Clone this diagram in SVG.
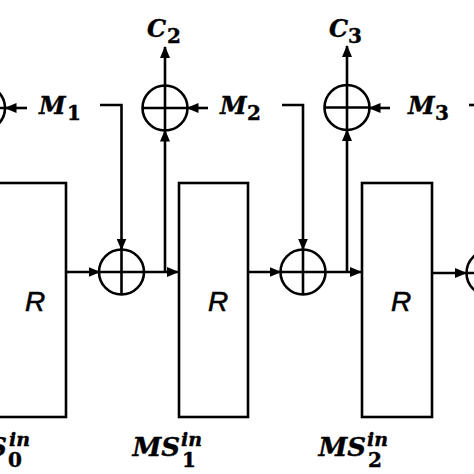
<svg xmlns="http://www.w3.org/2000/svg" width="474" height="474" viewBox="0 0 474 474">
<defs>
<marker id="ah" markerUnits="userSpaceOnUse" markerWidth="12" markerHeight="10" viewBox="0 0 12 10" refX="11" refY="5" orient="auto">
<path d="M0,0 L12,5 L0,10 Z" fill="#000"/>
</marker>
<style>
.ln{fill:none;stroke:#000;stroke-width:2.6}
.box{fill:#fff;stroke:#000;stroke-width:2.6}
.xor{fill:#fff;stroke:#000;stroke-width:2.6}
.lbl{font-family:"DejaVu Serif","Liberation Serif",serif;font-weight:bold;font-style:italic;font-size:24px;fill:#000;stroke:#000;stroke-width:0.4}
.ms{font-family:"DejaVu Serif","Liberation Serif",serif;font-weight:bold;font-style:italic;font-size:26px;fill:#000;stroke:#000;stroke-width:0.4}
.sub{font-style:normal;font-size:20px}
.sup{font-size:19px}
.r{font-family:"Liberation Sans",Arial,sans-serif;font-style:italic;font-size:28px;fill:#000;stroke:#000;stroke-width:0.6;text-anchor:middle}
</style>
</defs>
<rect width="474" height="474" fill="#fff"/>

<g id="connectors">
<line class="ln" x1="27" y1="108" x2="5.5" y2="108" marker-end="url(#ah)"/>
<polyline class="ln" points="100,105 121.5,105 121.5,249.5" marker-end="url(#ah)"/>
<line class="ln" x1="66" y1="272" x2="99.5" y2="272" marker-end="url(#ah)"/>
<line class="ln" x1="144" y1="272" x2="178" y2="272" marker-end="url(#ah)"/>
<line class="ln" x1="165" y1="273" x2="165" y2="130.5" marker-end="url(#ah)"/>
<line class="ln" x1="165" y1="85.5" x2="165" y2="47" marker-end="url(#ah)"/>
<line class="ln" x1="208" y1="108" x2="187.5" y2="108" marker-end="url(#ah)"/>
<polyline class="ln" points="282,105 303,105 303,249.5" marker-end="url(#ah)"/>
<line class="ln" x1="248" y1="272" x2="280.5" y2="272" marker-end="url(#ah)"/>
<line class="ln" x1="325.5" y1="272" x2="361" y2="272" marker-end="url(#ah)"/>
<line class="ln" x1="347" y1="273" x2="347" y2="130" marker-end="url(#ah)"/>
<line class="ln" x1="347" y1="85" x2="347" y2="46" marker-end="url(#ah)"/>
<line class="ln" x1="390" y1="108" x2="369.5" y2="108" marker-end="url(#ah)"/>
<line class="ln" x1="469" y1="105" x2="476" y2="105"/>
<line class="ln" x1="433" y1="273" x2="466" y2="273" marker-end="url(#ah)"/>
</g>

<g id="xor-c1"><circle class="xor" cx="-17.5" cy="108" r="22.5"/><path class="ln" d="M-40,108 H5 M-17.5,85.5 V130.5"/></g>
<g id="xor-c2"><circle class="xor" cx="165" cy="108" r="22.5"/><path class="ln" d="M142.5,108 H187.5 M165,85.5 V130.5"/></g>
<g id="xor-c3"><circle class="xor" cx="347" cy="107.5" r="22.5"/><path class="ln" d="M324.5,107.5 H369.5 M347,85 V130"/></g>
<g id="xor-1"><circle class="xor" cx="121.5" cy="272" r="22.5"/><path class="ln" d="M99,272 H144 M121.5,249.5 V294.5"/></g>
<g id="xor-2"><circle class="xor" cx="303" cy="272" r="22.5"/><path class="ln" d="M280.5,272 H325.5 M303,249.5 V294.5"/></g>
<g id="xor-3"><circle class="xor" cx="489" cy="273" r="22.5"/><path class="ln" d="M466.5,273 H511.5 M489,250.5 V295.5"/></g>

<g id="box-0"><rect class="box" x="-5" y="183" width="71" height="234"/><text class="r" x="35" y="311">R</text></g>
<g id="box-1"><rect class="box" x="179" y="183" width="69" height="234"/><text class="r" x="218" y="311">R</text></g>
<g id="box-2"><rect class="box" x="362" y="183" width="70" height="234"/><text class="r" x="401" y="311">R</text></g>

<g id="labels">
<text class="lbl" x="39" y="114">M<tspan class="sub" x="67" y="120">1</tspan></text>
<text class="lbl" x="220" y="114">M<tspan class="sub" x="247" y="120">2</tspan></text>
<text class="lbl" x="408" y="114">M<tspan class="sub" x="435" y="120">3</tspan></text>
<text class="lbl" x="147" y="37">C<tspan class="sub" x="167" y="43">2</tspan></text>
<text class="lbl" x="329" y="37">C<tspan class="sub" x="348" y="43">3</tspan></text>
<text class="ms" x="7" y="456" text-anchor="end">MS</text>
<text class="ms sup" x="9" y="446">in</text>
<text class="ms sub" x="8" y="467">0</text>
<text class="ms" x="180" y="456" text-anchor="end">MS</text>
<text class="ms sup" x="181" y="446">in</text>
<text class="ms sub" x="182" y="467">1</text>
<text class="ms" x="366" y="456" text-anchor="end">MS</text>
<text class="ms sup" x="367" y="446">in</text>
<text class="ms sub" x="368" y="467">2</text>
</g>
</svg>
